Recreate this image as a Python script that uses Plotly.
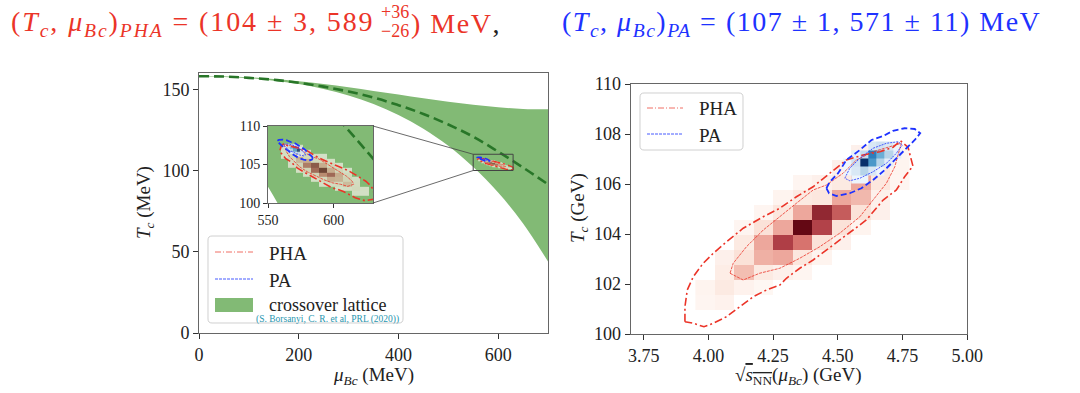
import plotly.graph_objects as go

W, H = 1080, 393

# ---------------- data ----------------
# lattice crossover band (MeV)
mu_grid = [0, 50, 100, 150, 200, 250, 300, 350, 400, 450, 500, 550, 600, 650, 700]
tc_center = [158.0, 157.8, 157.0, 155.8, 154.0, 151.6, 148.6, 144.9, 140.2, 134.8, 128.3, 120.8, 111.6, 101.8, 91.5]
tc_upper = [158.2, 158.0, 157.4, 156.3, 154.9, 153.2, 151.2, 149.0, 146.7, 144.4, 142.3, 140.4, 138.9, 137.9, 137.7]
tc_lower = [157.9, 157.6, 156.8, 155.3, 153.2, 150.2, 146.1, 140.9, 134.2, 125.7, 115.2, 102.1, 86.4, 67.4, 44.0]

# PHA 2D histogram (sqrt(s_NN) in GeV, T_c in MeV), normalised density
pha_sqrts = [3.9875, 4.0625, 4.1375, 4.2125, 4.2875, 4.3625, 4.4375, 4.5125, 4.5875, 4.6625, 4.7375]
pha_tc = [101.26, 101.86, 102.46, 103.06, 103.66, 104.26, 104.86, 105.46, 106.06, 106.66, 107.26]
pha_z = [
    [0.03, 0.05, 0.00, 0.00, 0.00, 0.00, 0.00, 0.00, 0.00, 0.00, 0.00],
    [0.04, 0.10, 0.05, 0.02, 0.00, 0.00, 0.00, 0.00, 0.00, 0.00, 0.00],
    [0.00, 0.08, 0.28, 0.10, 0.06, 0.03, 0.00, 0.00, 0.00, 0.00, 0.00],
    [0.00, 0.06, 0.15, 0.33, 0.36, 0.12, 0.04, 0.00, 0.00, 0.00, 0.00],
    [0.00, 0.00, 0.10, 0.36, 0.80, 0.55, 0.15, 0.06, 0.00, 0.00, 0.00],
    [0.00, 0.00, 0.03, 0.15, 0.36, 1.00, 0.78, 0.15, 0.04, 0.00, 0.00],
    [0.00, 0.00, 0.00, 0.03, 0.12, 0.36, 0.88, 0.66, 0.15, 0.06, 0.00],
    [0.00, 0.00, 0.00, 0.00, 0.04, 0.10, 0.12, 0.36, 0.30, 0.06, 0.00],
    [0.00, 0.00, 0.00, 0.00, 0.00, 0.03, 0.06, 0.10, 0.36, 0.12, 0.03],
    [0.00, 0.00, 0.00, 0.00, 0.00, 0.00, 0.00, 0.06, 0.18, 0.12, 0.04],
    [0.00, 0.00, 0.00, 0.00, 0.00, 0.00, 0.00, 0.00, 0.06, 0.06, 0.03],
]

# PA 2D histogram
pa_sqrts = [4.537, 4.569, 4.601, 4.633, 4.665, 4.697, 4.729]
pa_tc = [106.19, 106.53, 106.86, 107.19, 107.53]
pa_z = [
    [0.00, 0.05, 0.05, 0.00, 0.00, 0.00, 0.00],
    [0.05, 0.15, 0.30, 0.15, 0.05, 0.00, 0.00],
    [0.05, 0.20, 1.00, 0.60, 0.30, 0.10, 0.00],
    [0.00, 0.08, 0.25, 0.70, 0.50, 0.30, 0.10],
    [0.00, 0.00, 0.00, 0.15, 0.20, 0.15, 0.05],
]

# contour lines (sqrt(s_NN) GeV, T_c MeV)
pha_outer_s = [3.9095, 3.9095, 3.9185, 3.9416, 3.980, 4.019, 4.070, 4.1345, 4.2117, 4.276, 4.340, 4.4045,
               4.469, 4.533, 4.5975, 4.662, 4.7133, 4.7415, 4.771, 4.790, 4.758, 4.726, 4.675, 4.636,
               4.610, 4.559, 4.507, 4.456, 4.4045, 4.353, 4.3015, 4.276, 4.2245, 4.173, 4.1215, 4.070,
               4.019, 3.983, 3.9416, 3.9095]
pha_outer_t = [100.49, 101.09, 101.76, 102.29, 102.83, 103.23, 103.69, 104.23, 104.69, 105.03, 105.49, 105.89,
               106.43, 106.96, 107.16, 107.29, 107.47, 107.73, 107.47, 106.72, 106.29, 105.76, 105.36, 104.89,
               104.56, 104.16, 103.76, 103.36, 102.96, 102.63, 102.23, 101.96, 101.76, 101.49, 101.09, 100.69,
               100.43, 100.29, 100.43, 100.49]
pha_inner_s = [4.0835, 4.1345, 4.198, 4.276, 4.353, 4.430, 4.507, 4.585, 4.636, 4.6875, 4.720, 4.745,
               4.700, 4.636, 4.572, 4.520, 4.456, 4.4045, 4.340, 4.276, 4.212, 4.147, 4.096, 4.0835]
pha_inner_t = [102.43, 102.16, 102.43, 102.63, 103.03, 103.49, 104.03, 104.69, 105.36, 106.03, 106.69, 107.63,
               107.49, 107.29, 106.96, 106.43, 105.96, 105.76, 105.23, 104.69, 104.16, 103.49, 102.83, 102.43]
pa_outer_s = [4.456, 4.469, 4.501, 4.533, 4.585, 4.630, 4.675, 4.713, 4.758, 4.797, 4.818, 4.797, 4.758,
              4.720, 4.681, 4.636, 4.591, 4.546, 4.495, 4.466, 4.456]
pa_outer_t = [105.83, 106.09, 106.43, 106.96, 107.36, 107.76, 107.92, 108.13, 108.23, 108.20, 108.03, 107.76,
              107.36, 106.96, 106.56, 106.16, 105.83, 105.63, 105.52, 105.63, 105.83]
pa_inner_s = [4.527, 4.546, 4.585, 4.636, 4.688, 4.733, 4.749, 4.726, 4.688, 4.636, 4.585, 4.546, 4.527]
pa_inner_t = [106.23, 106.63, 107.03, 107.43, 107.63, 107.69, 107.56, 107.23, 106.83, 106.49, 106.23, 106.13, 106.23]

# tick labels
main_xticks = [0, 200, 400, 600]
main_yticks = [0, 50, 100, 150]
inset_xticks = [550, 600]
inset_yticks = [100, 105, 110]
right_xticks = [3.75, 4.00, 4.25, 4.50, 4.75, 5.00]
right_xticklabels = ["3.75", "4.00", "4.25", "4.50", "4.75", "5.00"]
right_yticks = [100, 102, 104, 106, 108, 110]

MAIN_XRANGE = [0, 700]
MAIN_YRANGE = [0, 160]
INSET_XRANGE = [550, 630]
INSET_YRANGE = [100, 110]
RIGHT_XRANGE = [3.70, 5.00]
RIGHT_YRANGE = [100, 110]


def mu_of_sqrts(s):
    # chemical freeze-out parametrisation mu_B(sqrt(s)) in MeV
    return 1477.0 / (1.0 + 0.343 * s)


def px(x):
    return x / W


def py(y):
    return 1 - y / H


RED = "rgb(235,52,40)"
BLUE = "rgb(30,50,255)"
GREEN_FILL = "rgb(130,186,117)"
GREEN_LINE = "rgb(40,118,40)"
SERIF = "Liberation Serif"
AXC = "#666666"
REDS = [[0.0, "rgb(255,250,247)"], [0.15, "rgb(251,226,216)"], [0.35, "rgb(238,170,158)"],
        [0.55, "rgb(215,115,110)"], [0.8, "rgb(175,62,70)"], [1.0, "rgb(100,8,20)"]]

fig = go.Figure()


def band(xa, ya):
    fig.add_trace(go.Scatter(x=mu_grid, y=tc_lower, mode="lines", line=dict(width=0, shape="spline"),
                             xaxis=xa, yaxis=ya, hoverinfo="skip", showlegend=False))
    fig.add_trace(go.Scatter(x=mu_grid, y=tc_upper, mode="lines", line=dict(width=0, shape="spline"),
                             fill="tonexty", fillcolor=GREEN_FILL, xaxis=xa, yaxis=ya,
                             hoverinfo="skip", showlegend=False))
    fig.add_trace(go.Scatter(x=mu_grid, y=tc_center, mode="lines",
                             line=dict(width=2.6, color=GREEN_LINE, dash="10px,5px", shape="spline"),
                             xaxis=xa, yaxis=ya, hoverinfo="skip", showlegend=False))


def masked(z):
    return [[(v if v > 0 else None) for v in row] for row in z]


def mapped_heat(xs, ts, z, scale, xa, ya, op):
    mus = [mu_of_sqrts(s) for s in xs][::-1]
    zz = [row[::-1] for row in masked(z)]
    fig.add_trace(go.Heatmap(x=mus, y=ts, z=zz, colorscale=scale, zmin=0, zmax=1, showscale=False,
                             opacity=op, xaxis=xa, yaxis=ya, hoverinfo="skip"))


def contours(xa, ya, mapped, wscale=1.0):
    f = (lambda arr: [mu_of_sqrts(s) for s in arr]) if mapped else (lambda arr: arr)
    fig.add_trace(go.Scatter(x=f(pha_inner_s), y=pha_inner_t, mode="lines",
                             line=dict(color=RED, width=0.8 * wscale, dash="3px,1px"),
                             xaxis=xa, yaxis=ya, hoverinfo="skip", showlegend=False))
    fig.add_trace(go.Scatter(x=f(pha_outer_s), y=pha_outer_t, mode="lines",
                             line=dict(color=RED, width=1.6 * wscale, dash="8px,3px,2px,3px"),
                             xaxis=xa, yaxis=ya, hoverinfo="skip", showlegend=False))
    fig.add_trace(go.Scatter(x=f(pa_inner_s), y=pa_inner_t, mode="lines",
                             line=dict(color=BLUE, width=0.8 * wscale, dash="2px,1px"),
                             xaxis=xa, yaxis=ya, hoverinfo="skip", showlegend=False))
    fig.add_trace(go.Scatter(x=f(pa_outer_s), y=pa_outer_t, mode="lines",
                             line=dict(color=BLUE, width=1.8 * wscale, dash="6px,3px"),
                             xaxis=xa, yaxis=ya, hoverinfo="skip", showlegend=False))


# main left axes: band underneath, histogram/contours on an overlaying axis pair (x4/y4)
band("x", "y")
mapped_heat(pha_sqrts, pha_tc, pha_z, REDS, "x4", "y4", 0.65)
mapped_heat(pa_sqrts, pa_tc, pa_z, "Blues", "x4", "y4", 0.8)
contours("x4", "y4", True, 0.8)

# inset axes: band on x2/y2, histogram/contours on overlay x5/y5
band("x2", "y2")
mapped_heat(pha_sqrts, pha_tc, pha_z, REDS, "x5", "y5", 0.65)
mapped_heat(pa_sqrts, pa_tc, pa_z, "Blues", "x5", "y5", 0.8)
contours("x5", "y5", True, 1.0)

# right axes
fig.add_trace(go.Heatmap(x=pha_sqrts, y=pha_tc, z=masked(pha_z), colorscale=REDS, zmin=0, zmax=1,
                         showscale=False, xaxis="x3", yaxis="y3", hoverinfo="skip"))
fig.add_trace(go.Heatmap(x=pa_sqrts, y=pa_tc, z=masked(pa_z), colorscale="Blues", zmin=0, zmax=1,
                         showscale=False, xaxis="x3", yaxis="y3", hoverinfo="skip"))
contours("x3", "y3", False, 1.0)

tickfont = dict(family=SERIF, size=18, color="#222")
axis_common = dict(showline=True, mirror=True, linecolor=AXC, linewidth=1, ticks="outside",
                   ticklen=5, tickcolor="#333", showgrid=False, zeroline=False, tickfont=tickfont,
                   automargin=False, fixedrange=True)

MAIN_X = [px(199), px(548)]
MAIN_Y = [py(333), py(73)]
INS_X = [px(268), px(373)]
INS_Y = [py(203), py(126)]
R_X = [px(630.7), px(967.3)]
R_Y = [py(334), py(84)]

small = dict(family=SERIF, size=14, color="#222")
hidden = dict(visible=False, showgrid=False, zeroline=False, fixedrange=True, automargin=False)
fig.update_layout(
    template="none",
    width=W, height=H, autosize=False,
    margin=dict(l=0, r=0, t=0, b=0, pad=0, autoexpand=False),
    paper_bgcolor="white", plot_bgcolor="white", showlegend=False,
    xaxis=dict(domain=MAIN_X, range=MAIN_XRANGE, tickvals=main_xticks, anchor="y", **axis_common),
    yaxis=dict(domain=MAIN_Y, range=MAIN_YRANGE, tickvals=main_yticks, anchor="x", **axis_common),
    xaxis2=dict(domain=INS_X, range=INSET_XRANGE, tickvals=inset_xticks, anchor="y2",
                **{**axis_common, "tickfont": small, "ticklen": 4}),
    yaxis2=dict(domain=INS_Y, range=INSET_YRANGE, tickvals=inset_yticks, anchor="x2",
                **{**axis_common, "tickfont": small, "ticklen": 4}),
    xaxis3=dict(domain=R_X, range=RIGHT_XRANGE, tickvals=right_xticks, ticktext=right_xticklabels,
                anchor="y3", **axis_common),
    yaxis3=dict(domain=R_Y, range=RIGHT_YRANGE, tickvals=right_yticks, anchor="x3", **axis_common),
    xaxis4=dict(overlaying="x", anchor="y4", domain=MAIN_X, range=MAIN_XRANGE, **hidden),
    yaxis4=dict(overlaying="y", anchor="x4", domain=MAIN_Y, range=MAIN_YRANGE, **hidden),
    xaxis5=dict(overlaying="x2", anchor="y5", domain=INS_X, range=INSET_XRANGE, **hidden),
    yaxis5=dict(overlaying="y2", anchor="x5", domain=INS_Y, range=INSET_YRANGE, **hidden),
)


def main_to_paper(mu, t):
    xp = MAIN_X[0] + (mu - MAIN_XRANGE[0]) / (MAIN_XRANGE[1] - MAIN_XRANGE[0]) * (MAIN_X[1] - MAIN_X[0])
    yp = MAIN_Y[0] + (t - MAIN_YRANGE[0]) / (MAIN_YRANGE[1] - MAIN_YRANGE[0]) * (MAIN_Y[1] - MAIN_Y[0])
    return xp, yp


shapes = []
# zoom rectangle and connectors
shapes.append(dict(type="rect", xref="x", yref="y", x0=INSET_XRANGE[0], x1=INSET_XRANGE[1],
                   y0=INSET_YRANGE[0], y1=INSET_YRANGE[1], line=dict(color="#444", width=1), layer="above"))
tl = main_to_paper(INSET_XRANGE[0], INSET_YRANGE[1])
bl = main_to_paper(INSET_XRANGE[0], INSET_YRANGE[0])
shapes.append(dict(type="line", xref="paper", yref="paper", x0=INS_X[1], y0=INS_Y[1], x1=tl[0], y1=tl[1],
                   line=dict(color="#444", width=0.8), layer="above"))
shapes.append(dict(type="line", xref="paper", yref="paper", x0=INS_X[1], y0=INS_Y[0], x1=bl[0], y1=bl[1],
                   line=dict(color="#444", width=0.8), layer="above"))


def rounded_box(x0, y0, x1, y1, r=4):
    # pixel coordinates -> paper path with rounded corners
    def P(x, y):
        return f"{px(x):.5f},{py(y):.5f}"
    path = (f"M {P(x0 + r, y0)} L {P(x1 - r, y0)} Q {P(x1, y0)} {P(x1, y0 + r)} "
            f"L {P(x1, y1 - r)} Q {P(x1, y1)} {P(x1 - r, y1)} L {P(x0 + r, y1)} "
            f"Q {P(x0, y1)} {P(x0, y1 - r)} L {P(x0, y0 + r)} Q {P(x0, y0)} {P(x0 + r, y0)} Z")
    return dict(type="path", xref="paper", yref="paper", path=path, fillcolor="rgba(255,255,255,0.85)",
                line=dict(color="#d0d0d0", width=1), layer="above")


def seg(x0, x1, y, color, dash, width=1.0):
    return dict(type="line", xref="paper", yref="paper", x0=px(x0), x1=px(x1), y0=py(y), y1=py(y),
                line=dict(color=color, width=width, dash=dash), layer="above")


# left legend
shapes.append(rounded_box(208, 236, 403, 323))
shapes.append(seg(215, 253, 252, "rgb(240,110,100)", "6px,2px,1px,2px"))
shapes.append(seg(215, 253, 279, "rgb(70,90,255)", "3px,1px"))
shapes.append(dict(type="rect", xref="paper", yref="paper", x0=px(215), x1=px(253), y0=py(312), y1=py(298),
                   fillcolor=GREEN_FILL, line=dict(width=0), layer="above"))
# right legend
shapes.append(rounded_box(640, 93, 743, 150))
shapes.append(seg(647, 683, 108, "rgb(240,110,100)", "6px,2px,1px,2px"))
shapes.append(seg(647, 683, 134, "rgb(70,90,255)", "3px,1px"))

fig.update_layout(shapes=shapes)

ann = []


def text(x, y, t, size, color="#222", xanchor="left", yanchor="middle", angle=0, family=SERIF):
    ann.append(dict(x=px(x), y=py(y), xref="paper", yref="paper", text=t, showarrow=False,
                    xanchor=xanchor, yanchor=yanchor, textangle=angle, borderpad=0,
                    font=dict(family=family, size=size, color=color)))


# legend texts
text(268, 253, "PHA", 19)
text(268, 280, "PA", 19)
text(268, 305, "crossover lattice", 18)
text(327, 319, "(S. Borsanyi, C. R. et al, PRL (2020))", 9.5, color="rgb(40,150,175)", xanchor="center")
text(698, 109, "PHA", 19)
text(698, 135, "PA", 19)

# axis titles
text(374, 376, "<i>μ<sub>Bc</sub></i> (MeV)", 19, xanchor="center")
text(145, 203, "<i>T<sub>c</sub></i> (MeV)", 19, xanchor="center", angle=-90)
text(798, 376, "√<span style='text-decoration:overline'><i>s</i><sub>NN</sub></span>(<i>μ<sub>Bc</sub></i>) (GeV)", 19, xanchor="center")
text(579, 208, "<i>T<sub>c</sub></i> (GeV)", 19, xanchor="center", angle=-90)

# header formulas
LS_R = "<span style='letter-spacing:1.9px'>"
LS_B = "<span style='letter-spacing:1.5px'>"
text(376, 23, LS_R + "(<i>T<sub>c</sub></i>, <i>μ<sub>Bc</sub></i>)<sub><i>PHA</i></sub> = (104 ± 3, 589</span>", 28,
     color=RED, xanchor="right")
text(380, 12, "+36", 18, color=RED)
text(380, 31, "−26", 18, color=RED)
text(410, 23, LS_B + ") MeV</span><span style='color:#222'>,</span>", 28, color=RED)
text(801, 23, LS_B + "(<i>T<sub>c</sub></i>, <i>μ<sub>Bc</sub></i>)<sub><i>PA</i></sub> = (107 ± 1, 571 ± 11) MeV</span>", 28,
     color=BLUE, xanchor="center")

fig.update_layout(annotations=ann)

fig.write_html("out.html", config={"responsive": False, "displayModeBar": False},
               post_script="document.body.style.margin='0';document.body.style.padding='0';"
                           "document.documentElement.style.overflow='hidden';")
